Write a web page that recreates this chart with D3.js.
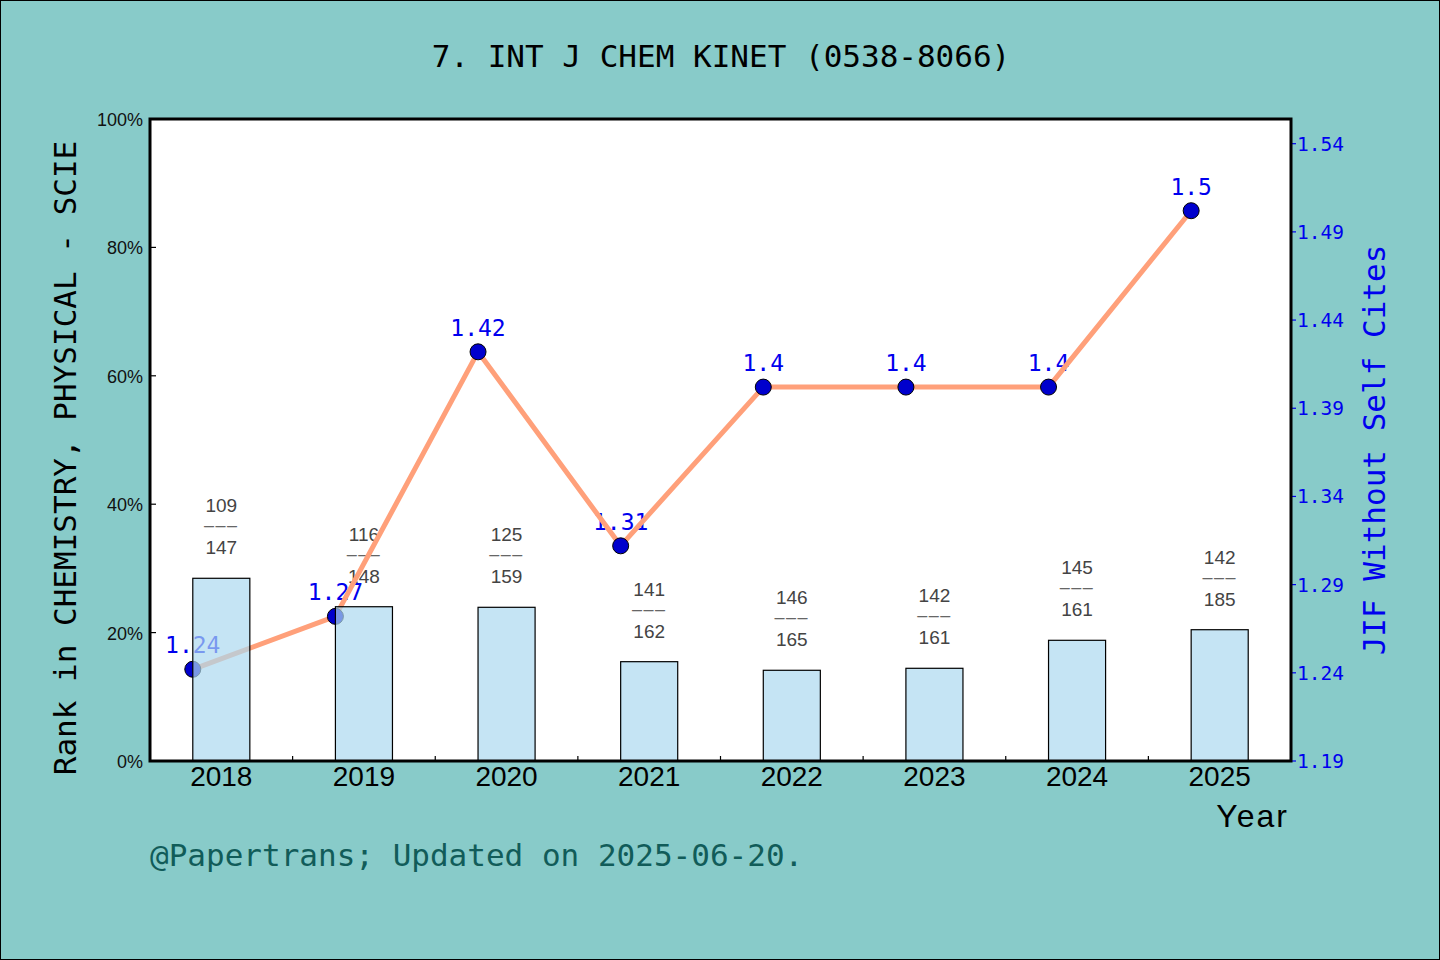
<!DOCTYPE html>
<html>
<head>
<meta charset="utf-8">
<script src="https://cdn.jsdelivr.net/npm/d3@7"></script>
<style>
  html, body { margin: 0; padding: 0; background: #88cbc9; }
  svg { display: block; }
</style>
</head>
<body>
<div id="chart"></div>
<script>
// chart data
const years = ['2018', '2019', '2020', '2021', '2022', '2023', '2024', '2025']
const rankPct = [28.46, 24.03, 23.94, 15.47, 14.13, 14.44, 18.8, 20.45]
const rankNum = [109, 116, 125, 141, 146, 142, 145, 142]
const rankTotal = [147, 148, 159, 162, 165, 161, 161, 185]
const jifValues = [1.24, 1.27, 1.42, 1.31, 1.4, 1.4, 1.4, 1.5]
const jifLabels = ['1.24', '1.27', '1.42', '1.31', '1.4', '1.4', '1.4', '1.5']
const pctTicks = [0, 20, 40, 60, 80, 100]
const jifTickCount = 8
const jifTickStep = 0.05

const W = 1440, H = 960
const plot = { left: 150, right: 1291, top: 119, bottom: 761 }
const monoFont = '"DejaVu Sans Mono", "Liberation Mono", monospace'
const sansFont = '"Liberation Sans", Arial, sans-serif'

const svg = d3.select('#chart')
  .append('svg')
  .attr('width', W)
  .attr('height', H)

// background + thin outer border
svg.append('rect')
  .attr('x', 0.5).attr('y', 0.5)
  .attr('width', W - 1).attr('height', H - 1)
  .attr('fill', '#88cbc9')
  .attr('stroke', '#000')
  .attr('stroke-width', 1)

// plot area
svg.append('rect')
  .attr('x', plot.left).attr('y', plot.top)
  .attr('width', plot.right - plot.left)
  .attr('height', plot.bottom - plot.top)
  .attr('fill', '#fff')

// scales
const x = d3.scaleBand()
  .domain(years)
  .range([plot.left, plot.right])
  .paddingInner(0)
  .paddingOuter(0)

const barW = x.bandwidth() * 0.4

const yPct = d3.scaleLinear()
  .domain([0, 100])
  .range([plot.bottom, plot.top])

const jMin = d3.min(jifValues), jMax = d3.max(jifValues)
const jPad = (jMax - jMin) * 0.2
const yJif = d3.scaleLinear()
  .domain([jMin - jPad, jMax + jPad])
  .range([plot.bottom, plot.top])

const jifTicks = d3.range(jifTickCount).map(i => jMin - jPad + i * jifTickStep)

const rows = years.map((y, i) => ({
  year: y,
  pct: rankPct[i],
  num: rankNum[i],
  total: rankTotal[i],
  jif: jifValues[i],
  jifLabel: jifLabels[i]
}))

const cx = d => x(d.year) + x.bandwidth() / 2
const px = d => cx(d) - barW / 2

// labels above the bars (rank / total)
const rankLab = svg.append('g').attr('class', 'rank-labels')
rankLab.selectAll('text.num')
  .data(rows)
  .join('text')
  .attr('class', 'num')
  .attr('x', cx)
  .attr('y', d => yPct(d.pct) - 66)
  .attr('text-anchor', 'middle')
  .style('font-family', sansFont)
  .style('font-size', '19px')
  .style('fill', '#444')
  .text(d => d.num)

rankLab.selectAll('text.dash')
  .data(rows)
  .join('text')
  .attr('class', 'dash')
  .attr('x', cx)
  .attr('y', d => yPct(d.pct) - 47)
  .attr('text-anchor', 'middle')
  .style('font-family', sansFont)
  .style('font-size', '18px')
  .style('letter-spacing', '1.5px')
  .style('fill', '#666')
  .text('\u2013\u2013\u2013')

rankLab.selectAll('text.total')
  .data(rows)
  .join('text')
  .attr('class', 'total')
  .attr('x', cx)
  .attr('y', d => yPct(d.pct) - 24)
  .attr('text-anchor', 'middle')
  .style('font-family', sansFont)
  .style('font-size', '19px')
  .style('fill', '#444')
  .text(d => d.total)

// JIF value labels
svg.append('g')
  .selectAll('text')
  .data(rows)
  .join('text')
  .attr('x', px)
  .attr('y', d => yJif(d.jif) - 16)
  .attr('text-anchor', 'middle')
  .style('font-family', monoFont)
  .style('font-size', '23px')
  .style('fill', '#0000ee')
  .text(d => d.jifLabel)

// JIF line
const line = d3.line()
  .x(px)
  .y(d => yJif(d.jif))

svg.append('path')
  .datum(rows)
  .attr('d', line)
  .attr('fill', 'none')
  .attr('stroke', '#ffa07a')
  .attr('stroke-width', 5)
  .attr('stroke-linejoin', 'round')

svg.append('g')
  .selectAll('circle')
  .data(rows)
  .join('circle')
  .attr('cx', px)
  .attr('cy', d => yJif(d.jif))
  .attr('r', 8)
  .attr('fill', '#0000cd')
  .attr('stroke', '#000')
  .attr('stroke-width', 1)

// bars (semi transparent, drawn over the line like the original)
svg.append('g')
  .selectAll('rect')
  .data(rows)
  .join('rect')
  .attr('x', d => cx(d) - barW / 2)
  .attr('y', d => yPct(d.pct))
  .attr('width', barW)
  .attr('height', d => plot.bottom - yPct(d.pct))
  .attr('fill', 'rgb(173,216,240)')
  .attr('fill-opacity', 0.7)
  .attr('stroke', '#000')
  .attr('stroke-width', 1.2)

// left axis ticks (inward) + labels
const leftAx = svg.append('g')
leftAx.selectAll('line')
  .data(pctTicks)
  .join('line')
  .attr('x1', plot.left).attr('x2', plot.left + 6)
  .attr('y1', d => yPct(d)).attr('y2', d => yPct(d))
  .attr('stroke', '#000')
  .attr('stroke-width', 1.2)
leftAx.selectAll('text')
  .data(pctTicks)
  .join('text')
  .attr('x', plot.left - 7)
  .attr('y', d => yPct(d) + 7)
  .attr('text-anchor', 'end')
  .style('font-family', sansFont)
  .style('font-size', '18px')
  .style('fill', '#111')
  .text(d => d + '%')

// right axis ticks (outward, blue) + labels
const rightAx = svg.append('g')
rightAx.selectAll('line')
  .data(jifTicks)
  .join('line')
  .attr('x1', plot.right).attr('x2', plot.right + 5)
  .attr('y1', d => yJif(d)).attr('y2', d => yJif(d))
  .attr('stroke', '#0000ee')
  .attr('stroke-width', 1.2)
rightAx.selectAll('text')
  .data(jifTicks)
  .join('text')
  .attr('x', plot.right + 6)
  .attr('y', d => yJif(d) + 7)
  .style('font-family', monoFont)
  .style('font-size', '19.5px')
  .style('fill', '#0000ee')
  .text(d => d.toFixed(2))

// x axis: band boundary ticks (inward) + year labels
svg.append('g')
  .selectAll('line')
  .data(years.slice(1))
  .join('line')
  .attr('x1', d => x(d)).attr('x2', d => x(d))
  .attr('y1', plot.bottom).attr('y2', plot.bottom - 5)
  .attr('stroke', '#000')
  .attr('stroke-width', 1.2)

svg.append('g')
  .selectAll('text')
  .data(years)
  .join('text')
  .attr('x', d => x(d) + x.bandwidth() / 2)
  .attr('y', plot.bottom + 25)
  .attr('text-anchor', 'middle')
  .style('font-family', sansFont)
  .style('font-size', '28px')
  .style('fill', '#000')
  .text(d => d)

// frame
svg.append('rect')
  .attr('x', plot.left).attr('y', plot.top)
  .attr('width', plot.right - plot.left)
  .attr('height', plot.bottom - plot.top)
  .attr('fill', 'none')
  .attr('stroke', '#000')
  .attr('stroke-width', 3)

// titles
svg.append('text')
  .attr('x', 721)
  .attr('y', 67)
  .attr('text-anchor', 'middle')
  .style('font-family', monoFont)
  .style('font-size', '31px')
  .style('fill', '#000')
  .text('7. INT J CHEM KINET (0538-8066)')

svg.append('text')
  .attr('transform', 'translate(76,458) rotate(-90)')
  .attr('text-anchor', 'middle')
  .style('font-family', monoFont)
  .style('font-size', '31px')
  .style('fill', '#000')
  .text('Rank in CHEMISTRY, PHYSICAL - SCIE')

svg.append('text')
  .attr('transform', 'translate(1385,450) rotate(-90)')
  .attr('text-anchor', 'middle')
  .style('font-family', monoFont)
  .style('font-size', '31px')
  .style('fill', '#0000ee')
  .text('JIF Without Self Cites')

svg.append('text')
  .attr('x', 1289)
  .attr('y', 827)
  .attr('text-anchor', 'end')
  .style('font-family', sansFont)
  .style('font-size', '32px')
  .style('letter-spacing', '2px')
  .style('fill', '#000')
  .text('Year')

svg.append('text')
  .attr('x', 150)
  .attr('y', 866)
  .style('font-family', monoFont)
  .style('font-size', '31px')
  .style('fill', '#115c59')
  .text('@Papertrans; Updated on 2025-06-20.')
</script>
</body>
</html>
